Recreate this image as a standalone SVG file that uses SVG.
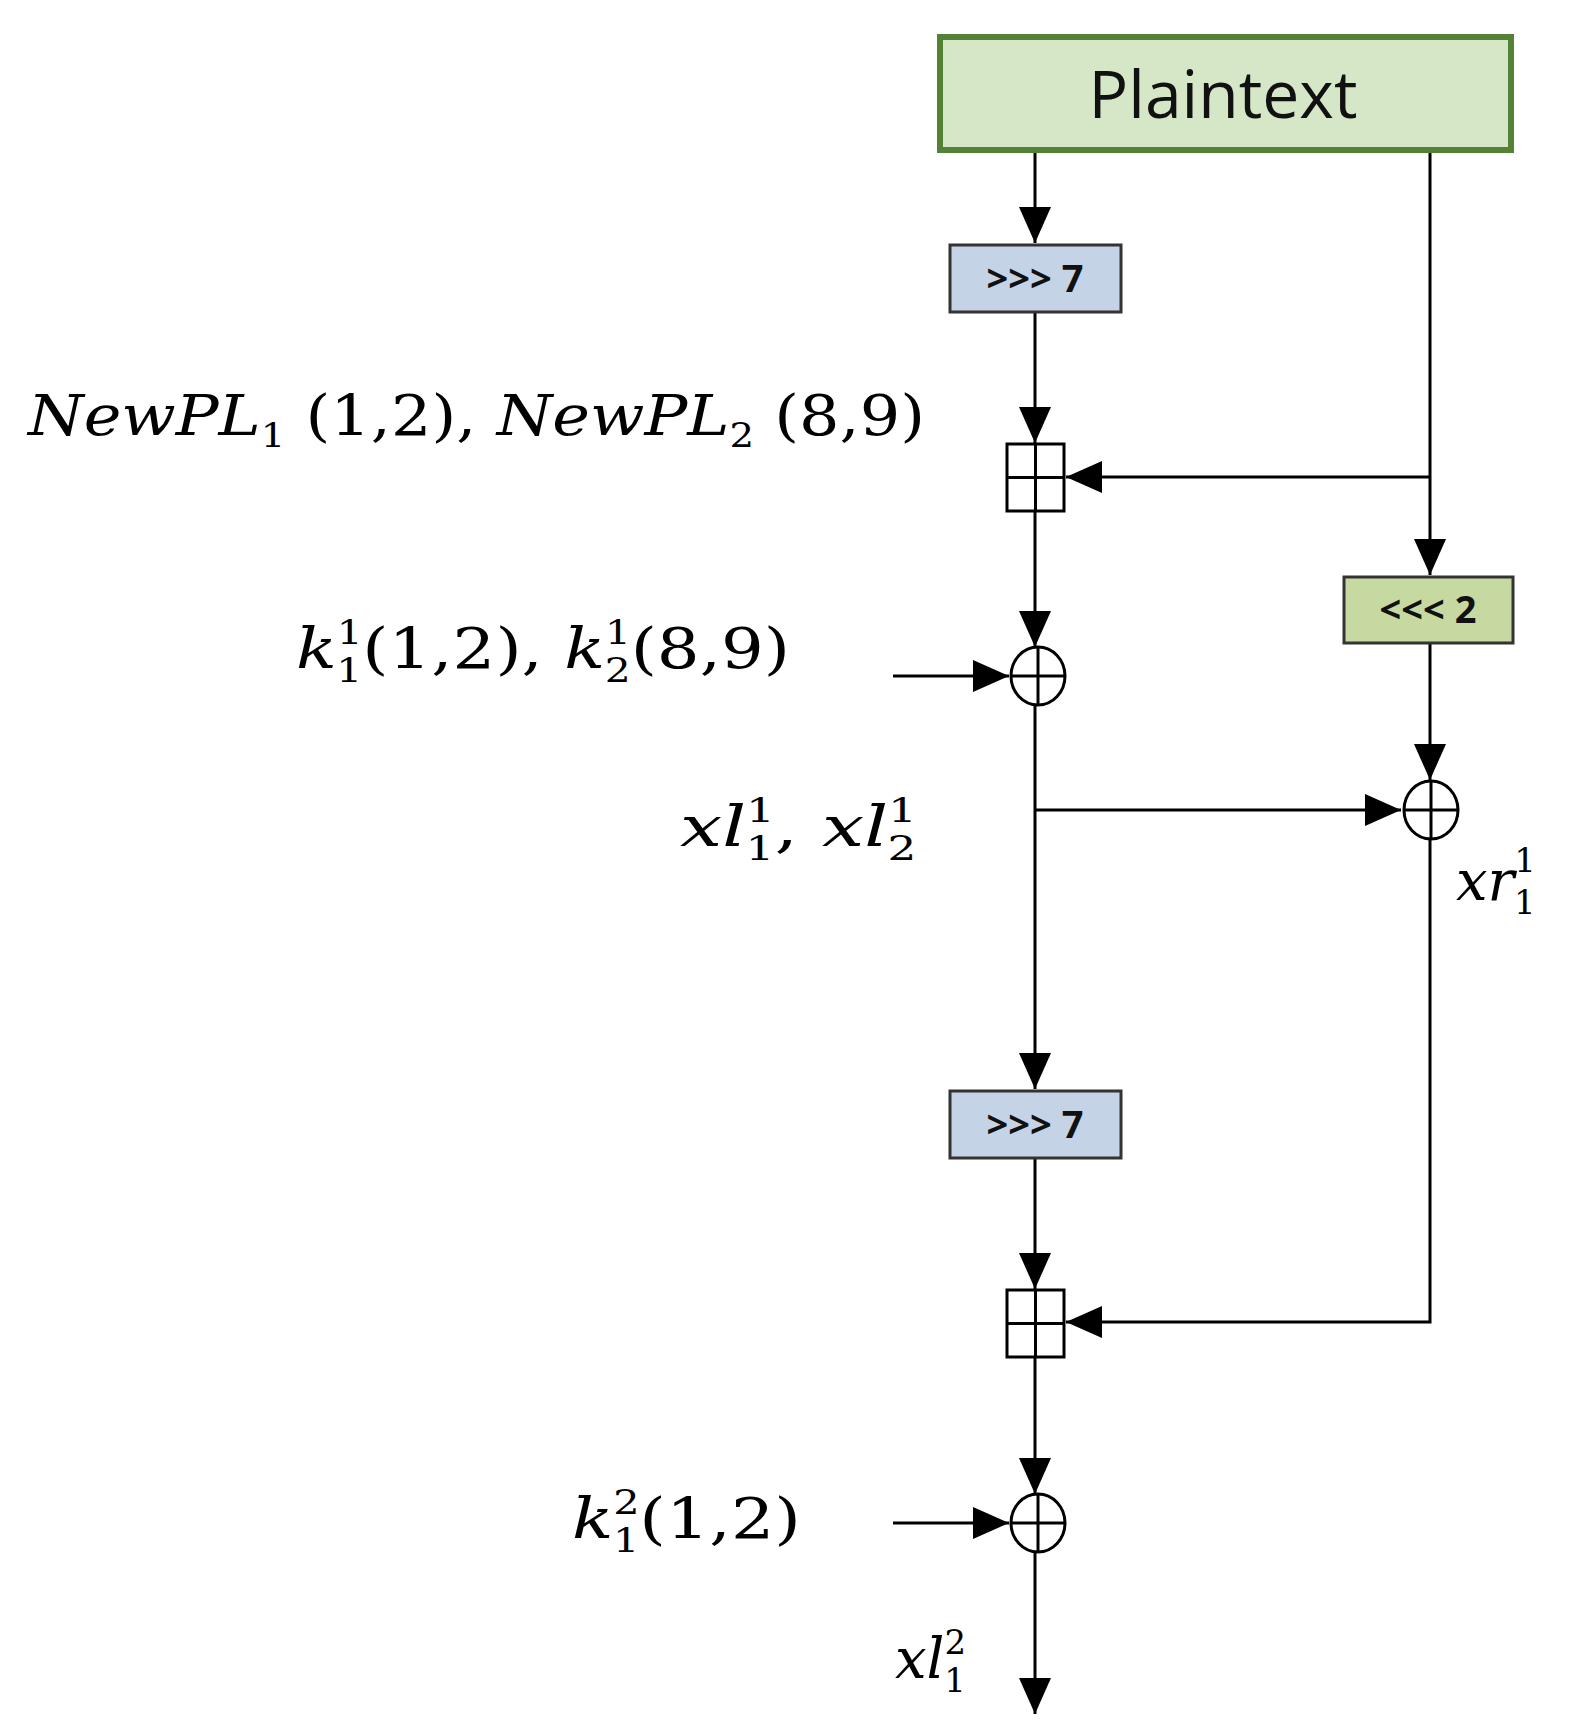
<svg xmlns="http://www.w3.org/2000/svg" width="1591" height="1732" viewBox="0 0 1591 1732">
<style>
.ln{stroke:#000;stroke-width:3;fill:none}
.op{fill:#fff;stroke:#000;stroke-width:3}
.m{font-family:"DejaVu Serif","Liberation Serif",serif;font-style:italic;font-size:56px;fill:#000}
.u{font-style:normal}
.s{font-size:34px}
.bx{font-family:"Open Sans","Liberation Sans",sans-serif;font-weight:bold;font-size:38px;text-anchor:middle;fill:#111}
</style>
<defs>
<marker id="a" markerUnits="userSpaceOnUse" markerWidth="40" markerHeight="40" viewBox="0 0 40 40" refX="38" refY="20" orient="auto">
<path d="M2,4 L38,20 L2,36 Z" fill="#000"/>
</marker>
</defs>
<rect width="1591" height="1732" fill="#fff"/>
<g id="connectors">
<line class="ln" x1="1035" y1="151" x2="1035" y2="243" marker-end="url(#a)"/>
<line class="ln" x1="1035" y1="313" x2="1035" y2="443" marker-end="url(#a)"/>
<line class="ln" x1="1430" y1="151" x2="1430" y2="575" marker-end="url(#a)"/>
<line class="ln" x1="1430" y1="477" x2="1066" y2="477" marker-end="url(#a)"/>
<line class="ln" x1="1035" y1="512" x2="1035" y2="647" marker-end="url(#a)"/>
<line class="ln" x1="893" y1="676" x2="1009" y2="676" marker-end="url(#a)"/>
<line class="ln" x1="1430" y1="643" x2="1430" y2="780" marker-end="url(#a)"/>
<line class="ln" x1="1035" y1="705" x2="1035" y2="1089" marker-end="url(#a)"/>
<line class="ln" x1="1035" y1="810" x2="1401" y2="810" marker-end="url(#a)"/>
<line class="ln" x1="1035" y1="1158" x2="1035" y2="1289" marker-end="url(#a)"/>
<polyline class="ln" points="1430,840 1430,1322 1066,1322" marker-end="url(#a)"/>
<line class="ln" x1="1035" y1="1357" x2="1035" y2="1494" marker-end="url(#a)"/>
<line class="ln" x1="893" y1="1523" x2="1009" y2="1523" marker-end="url(#a)"/>
<line class="ln" x1="1035" y1="1552" x2="1035" y2="1714" marker-end="url(#a)"/>
</g>
<g id="plaintext">
<rect x="940" y="37" width="571" height="113" fill="#d6e7c8" stroke="#548235" stroke-width="6"/>
<text x="1223" y="118" font-family="Open Sans,Liberation Sans,sans-serif" font-size="66" text-anchor="middle" fill="#111">Plaintext</text>
</g>
<g id="ror7a">
<rect x="950" y="245" width="171" height="67" fill="#c5d3e6" stroke="#333" stroke-width="3"/>
<text class="bx" x="1035" y="292">&gt;&gt;&gt; 7</text>
</g>
<g id="add1">
<rect class="op" x="1007" y="444" width="57" height="67"/>
<line class="ln" x1="1035.5" y1="444" x2="1035.5" y2="511"/>
<line class="ln" x1="1007" y1="477.5" x2="1064" y2="477.5"/>
</g>
<g id="rol2">
<rect x="1344" y="577" width="169" height="66" fill="#c6d9a0" stroke="#333" stroke-width="3"/>
<text class="bx" x="1428" y="623">&lt;&lt;&lt; 2</text>
</g>
<g id="xor1">
<ellipse class="op" cx="1038" cy="676" rx="27" ry="29"/>
<line class="ln" x1="1011" y1="676" x2="1065" y2="676"/>
<line class="ln" x1="1038" y1="647" x2="1038" y2="705"/>
</g>
<g id="xor2">
<ellipse class="op" cx="1431" cy="810" rx="27" ry="29"/>
<line class="ln" x1="1404" y1="810" x2="1458" y2="810"/>
<line class="ln" x1="1431" y1="781" x2="1431" y2="839"/>
</g>
<g id="ror7b">
<rect x="950" y="1091" width="171" height="67" fill="#c5d3e6" stroke="#333" stroke-width="3"/>
<text class="bx" x="1035" y="1138">&gt;&gt;&gt; 7</text>
</g>
<g id="add2">
<rect class="op" x="1007" y="1290" width="57" height="67"/>
<line class="ln" x1="1035.5" y1="1290" x2="1035.5" y2="1357"/>
<line class="ln" x1="1007" y1="1323.5" x2="1064" y2="1323.5"/>
</g>
<g id="xor3">
<ellipse class="op" cx="1038" cy="1523" rx="27" ry="29"/>
<line class="ln" x1="1011" y1="1523" x2="1065" y2="1523"/>
<line class="ln" x1="1038" y1="1494" x2="1038" y2="1552"/>
</g>
<g id="labels">
<text class="m" x="28" y="435" textLength="897" lengthAdjust="spacingAndGlyphs">NewPL<tspan class="u s" dy="12">1</tspan><tspan class="u" dy="-12"> (1,2),  </tspan>NewPL<tspan class="u s" dy="12">2</tspan><tspan class="u" dy="-12"> (8,9)</tspan></text>
<text class="m" x="296" y="668" textLength="494" lengthAdjust="spacingAndGlyphs">k<tspan class="u s" dy="-24">1</tspan><tspan class="u s" dx="-22" dy="38">1</tspan><tspan class="u" dy="-14">(1,2), </tspan>k<tspan class="u s" dy="-24">1</tspan><tspan class="u s" dx="-22" dy="38">2</tspan><tspan class="u" dy="-14">(8,9)</tspan></text>
<text class="m" x="680" y="846" textLength="237" lengthAdjust="spacingAndGlyphs">xl<tspan class="u s" dy="-24">1</tspan><tspan class="u s" dx="-22" dy="38">1</tspan><tspan class="u" dy="-14">,  </tspan>xl<tspan class="u s" dy="-24">1</tspan><tspan class="u s" dx="-22" dy="38">2</tspan></text>
<text class="m" x="1456" y="900">xr<tspan class="u s" dy="-28">1</tspan><tspan class="u s" dx="-22" dy="42">1</tspan></text>
<text class="m" x="572" y="1538" textLength="229" lengthAdjust="spacingAndGlyphs">k<tspan class="u s" dy="-24">2</tspan><tspan class="u s" dx="-22" dy="38">1</tspan><tspan class="u" dy="-14">(1,2)</tspan></text>
<text class="m" x="895" y="1678">xl<tspan class="u s" dy="-24">2</tspan><tspan class="u s" dx="-22" dy="38">1</tspan></text>
</g>
</svg>
